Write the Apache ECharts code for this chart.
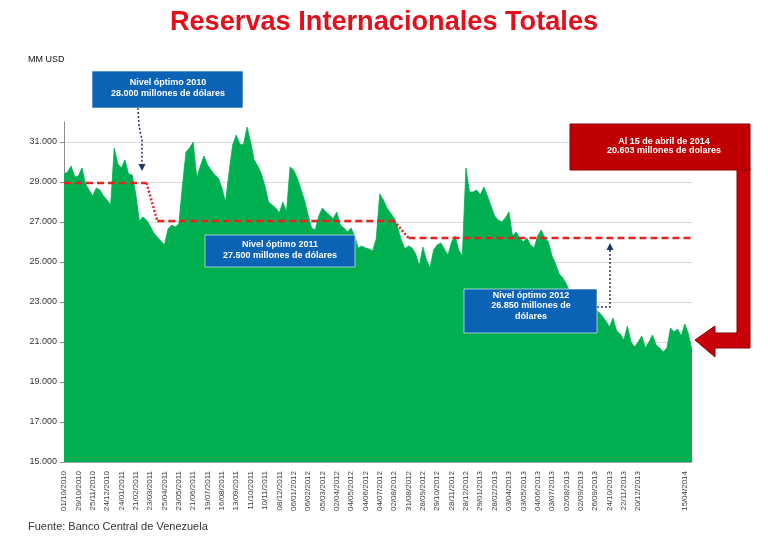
<!DOCTYPE html>
<html>
<head>
<meta charset="utf-8">
<title>Reservas Internacionales Totales</title>
<script src="https://cdn.jsdelivr.net/npm/echarts@6/dist/echarts.min.js"></script>
<style>
  html, body { margin: 0; padding: 0; background: #fff; }
  #chart { width: 768px; height: 550px; }
</style>
</head>
<body>
<div id="chart"></div>
<script>
// reservas semanales, millones de USD
const reservas = [
  29400, 29500, 29800, 29250, 29300, 29700, 28900, 28600, 28300, 28700,
  28600, 28300, 28100, 27850, 30700, 29900, 29700, 30100, 29400, 29350,
  28400, 27050, 27250, 27100, 26800, 26450, 26250, 26050, 25850, 26650,
  26850, 26750, 26900, 28800, 30500, 30700, 31000, 29200, 29800, 30300,
  29850, 29600, 29350, 29200, 28700, 28000, 29500, 30850, 31350, 30900,
  30850, 31750, 31000, 30100, 29800, 29400, 28800, 28000, 27850, 27700,
  27450, 28000, 27500, 29750, 29600, 29200, 28650, 28100, 27350, 26700,
  26600, 27300, 27700, 27500, 27350, 27150, 27500, 26850, 26700, 26500,
  26700, 26300, 25700, 25800, 25700, 25650, 25550, 26150, 28400, 28100,
  27700, 27450, 27200, 26700, 26100, 25650, 25800, 25700, 25400, 24800,
  25750, 25100, 24700, 25600, 25850, 25950, 25650, 25350, 26000, 26300,
  25600, 25300, 29700, 28500, 28500, 28600, 28350, 28750, 28300, 27800,
  27300, 27100, 27000, 27200, 27500, 26300, 26500, 26200, 26000, 26200,
  25850, 25700, 26300, 26600, 26200, 26000, 25300, 24900, 24400, 24200,
  23900, 23450, 23300, 23200, 23050, 22950, 22850, 22750, 22650, 22500,
  22300, 22050, 21750, 22200, 21550, 21400, 21100, 21800, 21000, 20750,
  21000, 21300, 20700, 21000, 21350, 20850, 20700, 20500, 20700, 21700,
  21500, 21650, 21300, 21900, 21400, 20600
];

const tickDates = [
  '01/10/2010', '29/10/2010', '25/11/2010', '24/12/2010', '24/01/2011', '21/02/2011',
  '23/03/2011', '25/04/2011', '23/05/2011', '21/06/2011', '19/07/2011', '16/08/2011',
  '13/09/2011', '11/10/2011', '10/11/2011', '08/12/2011', '06/01/2012', '06/02/2012',
  '05/03/2012', '02/04/2012', '04/05/2012', '04/06/2012', '04/07/2012', '02/08/2012',
  '31/08/2012', '28/09/2012', '29/10/2012', '28/11/2012', '28/12/2012', '29/01/2013',
  '28/02/2013', '03/04/2013', '03/05/2013', '04/06/2013', '03/07/2013', '02/08/2013',
  '02/09/2013', '26/09/2013', '24/10/2013', '22/11/2013', '20/12/2013', '15/04/2014'
];
const tickIndex = [
  0, 4, 8, 12, 16, 20, 24, 28, 32, 36, 40, 44, 48, 52, 56, 60, 64, 68, 72, 76, 80,
  84, 88, 92, 96, 100, 104, 108, 112, 116, 120, 124, 128, 132, 136, 140, 144, 148,
  152, 156, 160, 173
];

const yTicks = [15000, 17000, 19000, 21000, 23000, 25000, 27000, 29000, 31000];

// nivel optimo (linea roja): puntos de quiebre
const optimoX = [0, 23, 26, 92, 96, 175];
const optimoY = [28950, 28950, 27050, 27050, 26200, 26200];

const labelAt = {};
tickIndex.forEach((idx, k) => { labelAt[idx] = tickDates[k]; });
const cats = reservas.map((v, i) => String(i));

function fmtMiles(v) {
  return Math.floor(v / 1000) + '.' + String(v % 1000).padStart(3, '0');
}

// tramos de la linea roja: horizontales discontinuos, pendientes punteadas
const redSeries = [];
for (let i = 0; i < optimoX.length - 1; i++) {
  const flat = optimoY[i] === optimoY[i + 1];
  redSeries.push({
    type: 'line',
    data: [[optimoX[i], optimoY[i]], [optimoX[i + 1], optimoY[i + 1]]],
    symbol: 'none',
    silent: true,
    z: 5,
    lineStyle: { color: '#e52421', width: 2.5, type: flat ? [7, 4] : [2, 2] }
  });
}

const F = 'Liberation Sans, Arial, sans-serif';
const blue = '#0b63b6';

function box(x, y, w, h, fill, lines, tx, ty) {
  return [
    { type: 'rect', shape: { x: x, y: y, width: w, height: h }, z: 20,
      style: { fill: fill, stroke: 'rgba(255,255,255,0.6)', lineWidth: 1 } },
    { type: 'text', x: tx, y: ty, z: 21,
      style: { text: lines, fill: '#fff', font: 'bold 9px ' + F, align: 'center',
               verticalAlign: 'middle', lineHeight: 10.5 } }
  ];
}

const chart = echarts.init(document.getElementById('chart'));
chart.setOption({
  animation: false,
  backgroundColor: '#fff',
  grid: { left: 64, right: 76, top: 122, bottom: 88 },
  xAxis: {
    type: 'category',
    data: cats,
    boundaryGap: false,
    axisLine: { lineStyle: { color: '#a6a6a6', width: 1 } },
    axisTick: { show: false },
    axisLabel: {
      interval: 0, rotate: 90, fontSize: 8, color: '#404040', margin: 9,
      fontFamily: F,
      formatter: (v, i) => labelAt[i] || ''
    },
    splitLine: { show: false }
  },
  yAxis: {
    type: 'value',
    min: 15000, max: 32000, interval: 1000,
    axisLine: { show: true, lineStyle: { color: '#8c8c8c' } },
    axisTick: { show: true, customValues: yTicks, length: 4, lineStyle: { color: '#8c8c8c' } },
    axisLabel: { customValues: yTicks, fontSize: 9, color: '#333', margin: 7,
                 fontFamily: F, formatter: v => fmtMiles(v) },
    splitLine: { show: true, lineStyle: { color: '#d9d9d9', width: 1 } }
  },
  series: [{
    type: 'line',
    data: reservas,
    symbol: 'none',
    silent: true,
    z: 2,
    lineStyle: { color: '#00b050', width: 0.8 },
    areaStyle: { color: '#00b050', opacity: 1 }
  }].concat(redSeries),
  graphic: { elements: [
    { type: 'text', x: 384, y: 22, scaleX: 0.97, z: 30,
      style: { text: 'Reservas Internacionales Totales', fill: '#e3101b',
               font: 'bold 28px ' + F, align: 'center', verticalAlign: 'middle' } },
    { type: 'text', x: 28, y: 60,
      style: { text: 'MM USD', fill: '#111', font: '9px ' + F, verticalAlign: 'middle' } },
    { type: 'text', x: 28, y: 527,
      style: { text: 'Fuente: Banco Central de Venezuela', fill: '#333', font: '11px ' + F,
               verticalAlign: 'middle' } },

    // flecha punteada 2010
    { type: 'polyline', z: 19, shape: { points: [[138, 108], [139, 126], [142, 140], [142, 166]] },
      style: { stroke: '#1f3864', lineWidth: 1.5, lineDash: [2, 2], fill: null } },
    { type: 'polygon', z: 19, shape: { points: [[138.5, 164], [145.5, 164], [142, 171]] },
      style: { fill: '#1f3864' } },
    // flecha punteada 2012
    { type: 'polyline', z: 19, shape: { points: [[597, 307], [610, 307], [610, 248]] },
      style: { stroke: '#1f3864', lineWidth: 1.5, lineDash: [2, 2], fill: null } },
    { type: 'polygon', z: 19, shape: { points: [[606.5, 250], [613.5, 250], [610, 243]] },
      style: { fill: '#1f3864' } },

    ...box(92, 71, 151, 37, blue, 'Nivel óptimo 2010\n28.000 millones de dólares', 168, 88),
    ...box(205, 235, 150, 32, blue, 'Nivel óptimo 2011\n27.500 millones de dólares', 280, 250),
    ...box(464, 289, 133, 44, blue, 'Nivel óptimo 2012\n26.850 millones de\ndólares', 531, 306),

    // flecha roja
    { type: 'polygon', z: 20,
      shape: { points: [[737, 168], [750, 168], [750, 348], [715, 348], [715, 357], [695, 340],
                        [715, 326], [715, 333], [737, 333]] },
      style: { fill: '#c8000a', stroke: '#8e0000', lineWidth: 1 } },
    { type: 'rect', z: 20, shape: { x: 570, y: 124, width: 180, height: 46 },
      style: { fill: '#c00000', stroke: '#8e0000', lineWidth: 1 } },
    { type: 'text', x: 664, y: 146, z: 21,
      style: { text: 'Al 15 de abril de 2014\n20.603 millones de dolares', fill: '#fff',
               font: 'bold 9px ' + F, align: 'center', verticalAlign: 'middle', lineHeight: 8.5 } }
  ] }
});
window.addEventListener('resize', function () {
  chart.resize();
});
</script>
</body>
</html>
